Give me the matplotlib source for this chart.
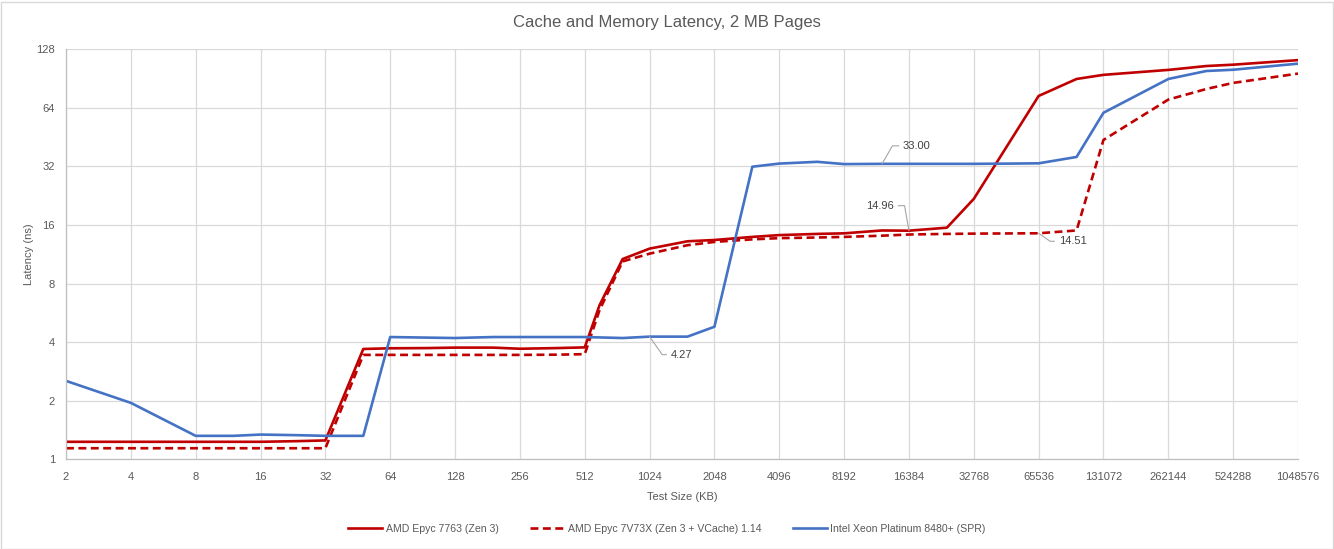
import matplotlib.pyplot as plt
from matplotlib.patches import Rectangle
from matplotlib.ticker import FixedLocator, NullLocator

plt.rcParams['font.family'] = ['Liberation Sans', 'DejaVu Sans']

# test sizes (KB) and latencies (ns)
zen3_x = [2, 4, 8, 12, 16, 24, 32, 48, 64, 96, 128, 192, 256, 384, 512, 600, 768,
          1024, 1536, 2048, 3072, 4096, 6144, 8192, 12288, 16384, 24576, 32768,
          65536, 98304, 131072, 262144, 393216, 524288, 1048576]
zen3_y = [1.23, 1.23, 1.23, 1.23, 1.23, 1.24, 1.25, 3.69, 3.72, 3.73, 3.75, 3.75, 3.70,
          3.73, 3.76, 6.2, 10.7, 12.1, 13.2, 13.4, 13.9, 14.2, 14.4, 14.5, 15.0,
          14.96, 15.5, 21.8, 73.7, 90.1, 94.6, 100.3, 105.0, 106.7, 112.6]

vcache_x = [2, 4, 8, 12, 16, 24, 32, 48, 64, 96, 128, 192, 256, 384, 512, 600, 768,
            1024, 1536, 2048, 3072, 4096, 6144, 8192, 12288, 16384, 24576, 32768,
            65536, 98304, 131072, 262144, 393216, 524288, 1048576]
vcache_y = [1.14, 1.14, 1.14, 1.14, 1.14, 1.14, 1.14, 3.44, 3.44, 3.44, 3.44, 3.44, 3.44,
            3.45, 3.47, 5.85, 10.4, 11.4, 12.6, 13.1, 13.5, 13.7, 13.8, 13.9, 14.1,
            14.3, 14.4, 14.45, 14.51, 15.0, 43.8, 70.6, 80.0, 86.0, 96.0]

spr_x = [2, 4, 8, 12, 16, 24, 32, 48, 64, 96, 128, 192, 256, 384, 512, 768, 1024,
         1536, 2048, 3072, 4096, 6144, 8192, 12288, 16384, 24576, 32768, 49152,
         65536, 98304, 131072, 262144, 393216, 524288, 1048576]
spr_y = [2.53, 1.95, 1.32, 1.32, 1.34, 1.33, 1.32, 1.32, 4.25, 4.22, 4.2, 4.25, 4.25,
         4.25, 4.25, 4.2, 4.27, 4.27, 4.8, 31.9, 33.1, 33.8, 32.9, 33.0, 33.0, 33.0,
         33.0, 33.1, 33.2, 35.8, 60.4, 90.1, 99.0, 100.5, 108.0]

x_ticks = [2, 4, 8, 16, 32, 64, 128, 256, 512, 1024, 2048, 4096, 8192, 16384,
           32768, 65536, 131072, 262144, 524288, 1048576]
y_ticks = [1, 2, 4, 8, 16, 32, 64, 128]

RED = '#C00000'
BLUE = '#4472C4'
TXT = '#595959'

fig = plt.figure(figsize=(13.34, 5.49), dpi=100)
ax = fig.add_axes([66 / 1334, 1 - 459.3 / 549, 1232 / 1334, 410 / 549])

ax.plot(zen3_x, zen3_y, color=RED, lw=1.9, label='AMD Epyc 7763 (Zen 3)')
ax.plot(vcache_x, vcache_y, color=RED, lw=1.9, ls=(0, (3, 1.7)),
        label='AMD Epyc 7V73X (Zen 3 + VCache) 1.14')
ax.plot(spr_x, spr_y, color=BLUE, lw=1.9, label='Intel Xeon Platinum 8480+ (SPR)')

ax.set_xscale('log', base=2)
ax.set_yscale('log', base=2)
ax.set_xlim(2, 1048576)
ax.set_ylim(1, 128)
ax.xaxis.set_major_locator(FixedLocator(x_ticks))
ax.set_xticklabels([str(v) for v in x_ticks])
ax.yaxis.set_major_locator(FixedLocator(y_ticks))
ax.set_yticklabels([str(v) for v in y_ticks])
ax.xaxis.set_minor_locator(NullLocator())
ax.yaxis.set_minor_locator(NullLocator())

ax.grid(True, color='#D9D9D9', lw=0.9)
ax.set_axisbelow(True)
for s in ['top', 'right']:
    ax.spines[s].set_visible(False)
for s in ['left', 'bottom']:
    ax.spines[s].set_color('#BFBFBF')
    ax.spines[s].set_linewidth(0.9)
ax.tick_params(length=0, labelsize=8, colors=TXT)
ax.tick_params(axis='x', pad=9)
ax.tick_params(axis='y', pad=8)

ax.set_xlabel('Test Size (KB)', fontsize=8, color=TXT, labelpad=7)
ax.set_ylabel('Latency (ns)', fontsize=8, color=TXT, labelpad=1.5)
fig.text(0.5, 1 - 22 / 549, 'Cache and Memory Latency, 2 MB Pages', ha='center',
         va='center', fontsize=12, color=TXT)

lab = dict(fontsize=8, color='#404040', textcoords='offset pixels', va='center')
lead = dict(arrowstyle='-', color='#A6A6A6', lw=0.8, shrinkA=1, shrinkB=0)
ax.annotate('33.00', xy=(12288, 33.0), xytext=(21, 18), ha='left',
            arrowprops=dict(lead, relpos=(0, 0.5),
                            connectionstyle='angle,angleA=180,angleB=60,rad=0'), **lab)
ax.annotate('14.96', xy=(16384, 14.96), xytext=(-15, 25), ha='right',
            arrowprops=dict(lead, relpos=(1, 0.5),
                            connectionstyle='angle,angleA=0,angleB=100,rad=0'), **lab)
ax.annotate('14.51', xy=(65536, 14.51), xytext=(20, -8), ha='left',
            arrowprops=dict(lead, relpos=(0, 0.5),
                            connectionstyle='angle,angleA=180,angleB=-35,rad=0'), **lab)
ax.annotate('4.27', xy=(1024, 4.27), xytext=(21, -18), ha='left',
            arrowprops=dict(lead, relpos=(0, 0.5),
                            connectionstyle='angle,angleA=180,angleB=-55,rad=0'), **lab)

leg = fig.legend(loc='center', bbox_to_anchor=(0.5, 1 - 529 / 549), ncol=3,
                 frameon=False, fontsize=7.6, handlelength=3.2, handletextpad=0.35,
                 columnspacing=3.0, labelcolor=TXT)

fig.patches.append(Rectangle((0.5 / 1334, 0.5 / 549), 1332 / 1334, 547 / 549,
                             transform=fig.transFigure, fill=False,
                             edgecolor='#D9D9D9', lw=1))

fig.savefig('out.png', dpi=100)
